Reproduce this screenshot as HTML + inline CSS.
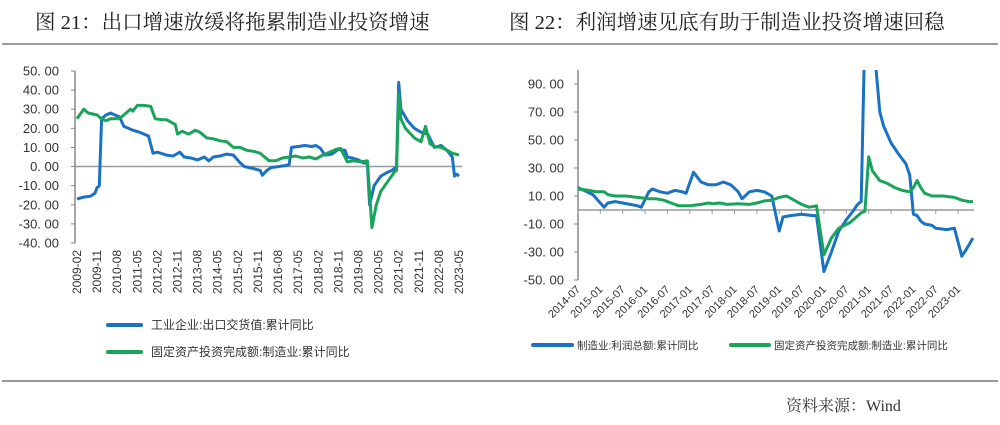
<!DOCTYPE html>
<html><head><meta charset="utf-8">
<style>
body{margin:0;background:#fff;}
#wrap{position:relative;width:1000px;height:425px;overflow:hidden;font-family:"Liberation Serif","Noto Serif CJK SC",serif;}
svg text{font-family:"Liberation Sans","Noto Sans CJK SC",sans-serif;}
</style></head>
<body>
<div id="wrap">
<svg id="svg" width="1000" height="425" xmlns="http://www.w3.org/2000/svg">
<text x="35" y="29" font-size="20.5" fill="#222" style="font-family:'Liberation Serif','Noto Serif CJK SC',serif">图 21：出口增速放缓将拖累制造业投资增速</text>
<text x="509" y="29" font-size="20.5" fill="#222" style="font-family:'Liberation Serif','Noto Serif CJK SC',serif">图 22：利润增速见底有助于制造业投资增速回稳</text>
<line x1="2" y1="44" x2="998" y2="44" stroke="#999" stroke-width="2"/>
<line x1="2" y1="381" x2="998" y2="381" stroke="#999" stroke-width="2"/>
<text x="786" y="411" font-size="16" fill="#333" style="font-family:'Liberation Serif','Noto Serif CJK SC',serif">资料来源：Wind</text>
<defs>
<clipPath id="clipR"><rect x="578" y="70" width="420" height="220"/></clipPath>
</defs>
<g id="left"></g>
<g id="right"></g>
</svg>
</div>
<script>
// ---- Left chart data (month index from 2009-02) ----
const leftTicks = ["2009-02","2009-11","2010-08","2011-05","2012-02","2012-11","2013-08","2014-05","2015-02","2015-11","2016-08","2017-05","2018-02","2018-11","2019-08","2020-05","2021-02","2021-11","2022-08","2023-05"];
const leftYTicks = [50,40,30,20,10,0,-10,-20,-30,-40];
const exportMonths = [0,3,6,8,9,10,11,13,15,17,19,21,23,25,28,32,34,36,40,43,46,48,51,54,57,59,61,64,67,70,73,75,79,82,83,85,87,90,93,95,96,99,102,105,107,109,111,114,117,120,121,123,126,128,130,131,133,136,139,141,143,144,145,148,151,154,157,160,163,166,168,169,170,171];
const exportValues = [-17,-16,-15.5,-14,-11,-10,25,27,28,27,26,21,20,19,18,16,7,7.5,6,5.5,7.5,5,4.5,3.5,5,3,5,5.5,6.5,6,2,0,-1,-2,-4.5,-2,-0.5,0,0.5,1,10,10.5,11,10.5,11,9.5,6,6.5,9,8.5,5,4.5,3.5,2,1.5,-20,-10,-5,-3,-2,0,44,30,24,20,18,17,10,11,8,5,-5,-4,-5];
const fixedMonthsL = [0,3,5,7,9,11,13,15,18,20,22,24,25,27,30,33,35,38,40,44,45,47,50,53,55,58,61,64,67,70,73,76,79,82,84,86,89,92,95,98,101,104,107,110,113,116,118,121,124,127,130,132,134,136,139,142,143,144,145,147,151,154,156,158,160,163,165,168,171];
const fixedValuesL = [25,30,28,27.5,27,25,24,25,25,26,28,30,29,32,32,31.5,25,24.5,24.5,22,17,18.5,17,19,18,15,14.5,13.5,13,10,10,8.5,8,7,5,3,3,4.5,5,5.5,4.5,5,4,6,7.5,9,9.5,2.5,3,2.5,3,-32,-20,-13,-8,-3,-2,38,25,20,15,13,21,12,10.5,10,9,7,6];
// ---- Right chart data (month index from 2014-07) ----
const rightTicks = ["2014-07","2015-01","2015-07","2016-01","2016-07","2017-01","2017-07","2018-01","2018-07","2019-01","2019-07","2020-01","2020-07","2021-01","2021-07","2022-01","2022-07","2023-01"];
const rightYTicks = [90,70,50,30,10,-10,-30,-50];
const profitMonths = [0,4,7,8,10,12,14,16,17,19,20,22,24,26,28,29,31,33,35,37,39,41,43,44,46,48,50,52,54,55,57,60,63,64,66,68,70,72,74,75,76,77,79,80,81,82,84,86,88,89,90,91,92,93,95,96,99,101,103,104,106];
const profitValues = [16,11,2,5,6,5,4,3,2,13,15,13,12,14,13,12,27,20,18,18,20,18,13,8,13,14,13,10,-15,-5,-4,-3,-4,-4,-44,-30,-15,-7,0,4,6,130,130,100,70,60,48,40,33,25,-3,-4,-8,-10,-11,-13,-14,-13,-33,-29,-20];
const fixedMonthsR = [0,3,5,7,8,10,13,16,19,21,23,25,26,27,30,33,35,36,38,40,43,46,48,50,52,54,56,58,60,62,64,66,68,70,73,76,77,78,79,81,83,85,87,89,90,91,92,93,95,98,101,103,105,106];
const fixedValuesR = [15,14,13,13,11,10,10,9,8,8,7,5,4,3,3,4,5,4.5,5,4,4.5,4,5,6.5,7,9,10,7,4,2,3,-32,-20,-13,-9,-2,-1,38,28,21,19,16,14,13,16,21,16,12,10,10,9,7,6,6];

const NS="http://www.w3.org/2000/svg";
function mk(tag,attrs,parent,txt){const e=document.createElementNS(NS,tag);for(const k in attrs)e.setAttribute(k,attrs[k]);if(txt!==undefined)e.textContent=txt;parent.appendChild(e);return e;}
function fmt(v){return v.toFixed(2).replace(".",". ");}
const BLUE="#1a72c4", GREEN="#1aa35a";

// Left chart axes
const L={x0:77,x1:459,n:171,yTop:71,yBot:243,vTop:50,vBot:-40};
const lx=m=>L.x0+(L.x1-L.x0)*m/L.n;
const ly=v=>L.yTop+(L.vTop-v)*(L.yBot-L.yTop)/(L.vTop-L.vBot);
const gl=document.getElementById('left');
let a=mk('line',{x1:75,y1:ly(50),x2:75,y2:ly(-40),stroke:'#888','stroke-width':1.5},gl);


leftYTicks.forEach(v=>{
 const t=mk('text',{x:59,y:ly(v)+4.5,'font-size':13,'text-anchor':'end',fill:'#333'},gl,fmt(v));
 
 
 mk('line',{x1:71,y1:ly(v),x2:75,y2:ly(v),stroke:'#888'},gl);
});
a=mk('line',{x1:75,y1:ly(0),x2:462,y2:ly(0),stroke:'#999','stroke-width':1.5},gl);


leftTicks.forEach((s,i)=>{
 const x=lx(i*9);
 const t=mk('text',{x:0,y:0,'font-size':12,'text-anchor':'end',fill:'#333',transform:`translate(${x+4},${250}) rotate(-90)`},gl,s);
 
 
});
function path(ms,vs,fx,fy){return ms.map((m,i)=>(i?'L':'M')+fx(m).toFixed(1)+','+fy(vs[i]).toFixed(1)).join('');}
a=mk('path',{d:path(exportMonths,exportValues,lx,ly),fill:'none',stroke:BLUE,'stroke-width':3,'stroke-linejoin':'round'},gl);


a=mk('path',{d:path(fixedMonthsL,fixedValuesL,lx,ly),fill:'none',stroke:GREEN,'stroke-width':3,'stroke-linejoin':'round'},gl);


// Left legend
a=mk('line',{x1:108,y1:325,x2:141,y2:325,stroke:BLUE,'stroke-width':4,'stroke-linecap':'round'},gl);


a=mk('text',{x:151,y:329,'font-size':12,fill:'#333'},gl,'工业企业:出口交货值:累计同比');


a=mk('line',{x1:108,y1:352,x2:141,y2:352,stroke:GREEN,'stroke-width':4,'stroke-linecap':'round'},gl);


a=mk('text',{x:151,y:356,'font-size':12,fill:'#333'},gl,'固定资产投资完成额:制造业:累计同比');



// Right chart axes
const R={x0:578,x1:973,n:106,yTop:84,yBot:280,vTop:90,vBot:-50};
const rx=m=>R.x0+(R.x1-R.x0)*m/R.n;
const ry=v=>R.yTop+(R.vTop-v)*(R.yBot-R.yTop)/(R.vTop-R.vBot);
const gr=document.getElementById('right');
a=mk('line',{x1:578,y1:70,x2:578,y2:ry(-50),stroke:'#888','stroke-width':1.5},gr);


rightYTicks.forEach(v=>{
 const t=mk('text',{x:564,y:ry(v)+4.5,'font-size':13,'text-anchor':'end',fill:'#333'},gr,fmt(v));
 
 
 mk('line',{x1:574,y1:ry(v),x2:578,y2:ry(v),stroke:'#888'},gr);
});
a=mk('line',{x1:578,y1:ry(0),x2:974,y2:ry(0),stroke:'#999','stroke-width':1.5},gr);


rightTicks.forEach((s,i)=>{
 const x=rx(i*6);
 mk('line',{x1:x,y1:ry(0),x2:x,y2:ry(0)+4,stroke:'#999'},gr);
 const t=mk('text',{x:0,y:0,'font-size':11,'text-anchor':'end',fill:'#333',transform:`translate(${x+3},${290}) rotate(-45)`},gr,s);
 
 
});
a=mk('path',{d:path(profitMonths,profitValues,rx,ry),fill:'none',stroke:BLUE,'stroke-width':3,'stroke-linejoin':'round','clip-path':'url(#clipR)'},gr);


a=mk('path',{d:path(fixedMonthsR,fixedValuesR,rx,ry),fill:'none',stroke:GREEN,'stroke-width':3,'stroke-linejoin':'round','clip-path':'url(#clipR)'},gr);


// Right legend
a=mk('line',{x1:533,y1:345,x2:572,y2:345,stroke:BLUE,'stroke-width':4,'stroke-linecap':'round'},gr);


a=mk('text',{x:577,y:349,'font-size':10.5,fill:'#333'},gr,'制造业:利润总额:累计同比');


a=mk('line',{x1:731,y1:345,x2:769,y2:345,stroke:GREEN,'stroke-width':4,'stroke-linecap':'round'},gr);


a=mk('text',{x:774,y:349,'font-size':10.5,fill:'#333'},gr,'固定资产投资完成额:制造业:累计同比');


</script>
</body></html>
